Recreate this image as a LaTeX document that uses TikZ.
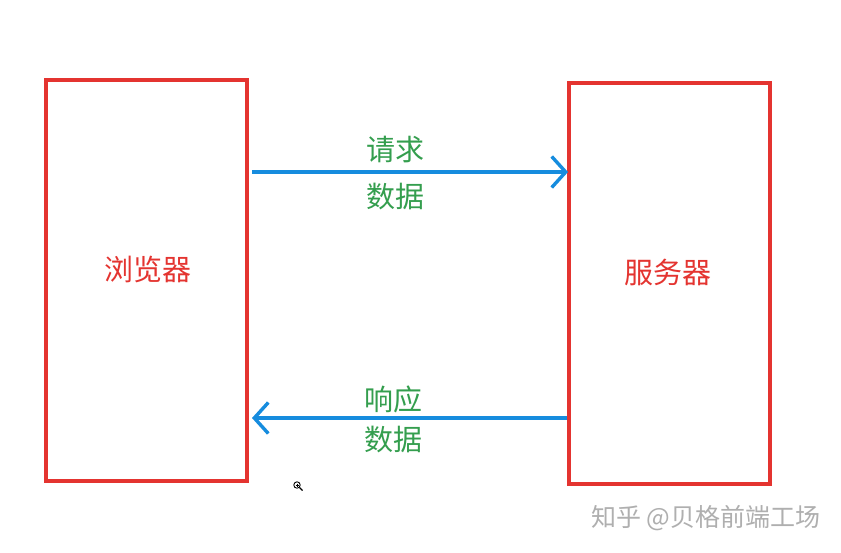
\documentclass[tikz,border=0pt]{standalone}
\usepackage{fontspec}
\newfontfamily\cjk{Noto Sans CJK SC}
\usetikzlibrary{arrows.meta}
\definecolor{boxred}{RGB}{228,52,48}
\definecolor{arrblue}{RGB}{22,140,222}
\definecolor{txtgreen}{RGB}{52,158,78}
\definecolor{wmgray}{RGB}{175,175,175}
\tikzset{
  redbox/.style={draw=boxred, line width=3.6pt, fill=none},
  flow/.style={draw=arrblue, line width=3.4pt, -{Straight Barb[length=14pt,width=31pt,line width=3.4pt]}},
  boxlabel/.style={text=boxred, font=\cjk\fontsize{29}{32}\selectfont},
  flowlabel/.style={text=txtgreen, font=\cjk\fontsize{29}{32}\selectfont},
}
\begin{document}
\begin{tikzpicture}[x=1pt,y=-1pt]
\useasboundingbox (0,0) rectangle (841,552);
\fill[white] (0,0) rectangle (841,552);
% boxes
\draw[redbox] (46,80) rectangle (247,481);
\draw[redbox] (569,83) rectangle (770,484);
\node[boxlabel] (browser) at (148,269) {浏览器};
\node[boxlabel] (server) at (668,272) {服务器};
% anchors for arrows
\coordinate (bR1) at (252,172);
\coordinate (sL1) at (568,172);
\coordinate (sL2) at (567,418);
\coordinate (bR2) at (252,418);
\draw[flow] (bR1) -- (sL1);
\draw[flow] (sL2) -- (bR2);
\node[flowlabel] (req) at (395,150) {请求};
\node[flowlabel] (reqd) at (395,197) {数据};
\node[flowlabel] (resp) at (393,399) {响应};
\node[flowlabel] (respd) at (393,440) {数据};
% magnifier icon
\draw[black, line width=0.9pt] (297,485) circle (3.2);
\draw[black, line width=0.6pt] (295.5,485) -- (298.5,485) (297,483.5) -- (297,486.5);
\draw[black, line width=1.3pt] (299.5,487.5) -- (302.5,490.5);
% watermark
\node[text=wmgray, font=\cjk\fontsize{25}{28}\selectfont, anchor=center] (wm) at (706,518) {知乎 @贝格前端工场};
\end{tikzpicture}
\end{document}
